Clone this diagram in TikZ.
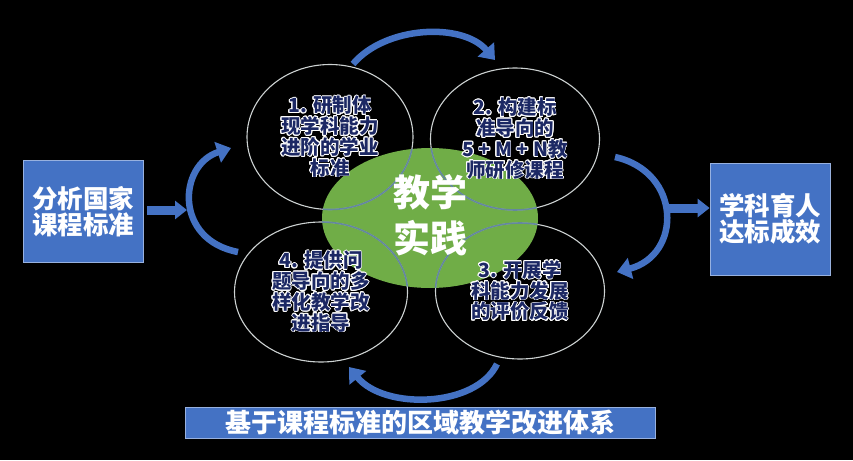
\documentclass[tikz,border=0pt]{standalone}
\usepackage{fontspec}
\setmainfont{Noto Sans CJK SC}
\usepackage{contour}
\usetikzlibrary{arrows.meta,shapes.geometric}
\definecolor{boxblue}{RGB}{68,114,196}
\definecolor{practicegreen}{RGB}{112,173,71}
\definecolor{ringgray}{RGB}{205,210,210}
\definecolor{ringblue}{RGB}{100,135,160}
\definecolor{textnavy}{RGB}{28,40,100}
\contourlength{0.8pt}
\newcommand\ringline[1]{\contour{white}{#1}}

\begin{document}
\begin{tikzpicture}[x=1pt,y=-1pt,
	  ring/.style={ellipse,draw=ringgray,line width=1.1pt,inner sep=0pt},
	  ringtext/.style={align=center,text=textnavy,font=\fontsize{19.5}{20.8}\selectfont\bfseries},
	  goalbox/.style={rectangle,fill=boxblue,draw=boxblue!55!white,line width=0.8pt,text=white,align=center,
	    font=\fontsize{25.5}{26}\selectfont\bfseries,minimum width=120pt,minimum height=102pt},
	  cyclearrow/.style={draw=boxblue,line width=6.5pt,-{Triangle[width=21pt,length=14pt]}},
	  feedarrow/.style={draw=boxblue,line width=9pt,-{Triangle[width=18pt,length=12pt]}},
	  ]
	  \fill[black] (0,0) rectangle (853,460);
	  \useasboundingbox (0,0) rectangle (853,460);
	  % centre and the four rings
	  \node[ellipse,fill=practicegreen,minimum width=216pt,minimum height=140pt] (practice) at (430,218) {};
	  \node[ring,minimum width=166pt,minimum height=145pt] (ring1) at (330,137) {};
	  \node[ring,minimum width=169pt,minimum height=142pt] (ring2) at (515,139) {};
	  \node[ring,minimum width=169pt,minimum height=136pt] (ring3) at (520,291) {};
	  \node[ring,minimum width=173pt,minimum height=140pt] (ring4) at (321,292) {};
	  \begin{scope}
	    \clip (practice.center) ellipse [x radius=108, y radius=70];
	    \draw[ringblue,line width=1.6pt] (ring1.center) ellipse [x radius=83, y radius=72.5]
	      (ring2.center) ellipse [x radius=84.5, y radius=71]
	      (ring3.center) ellipse [x radius=84.5, y radius=68]
	      (ring4.center) ellipse [x radius=86.5, y radius=70];
	  \end{scope}
	  \node[ringtext] (step1) at (ring1.center) {\ringline{1. 研制体}\\\ringline{现学科能力}\\\ringline{进阶的学业}\\\ringline{标准}};
	  \node[ringtext] (step2) at (ring2.center) {\ringline{2. 构建标}\\\ringline{准导向的}\\\ringline{5 + M + N教}\\\ringline{师研修课程}};
	  \node[ringtext] (step3) at (ring3.center) {\ringline{3. 开展学}\\\ringline{科能力发展}\\\ringline{的评价反馈}};
	  \node[ringtext] (step4) at (ring4.center) {\ringline{4. 提供问}\\\ringline{题导向的多}\\\ringline{样化教学改}\\\ringline{进指导}};
	  \node[text=white,align=center,font=\fontsize{37}{46}\selectfont\bfseries] (core) at ([yshift=3pt]practice.center) {教学\\实践};
	  % cycle arrows
	  \draw[cyclearrow] (353,64) .. controls (385,26) and (462,22) .. (495,60);
	  \draw[cyclearrow] (615,157) .. controls (682,172) and (682,255) .. (617,272);
	  \draw[cyclearrow] (497,364) .. controls (476,408) and (384,410) .. (349,367);
	  \draw[cyclearrow] (238,252) .. controls (174,240) and (178,165) .. (231,148);
	  % input and output
	  \node[goalbox] (standard) at (83,211.5) {分析国家\\课程标准};
	  \node[goalbox,minimum height=112pt] (outcome) at (770,219) {学科育人\\达标成效};
	  \coordinate (inflow) at (187,210);
	  \coordinate (outflow) at (668,208);
	  \draw[feedarrow] ([xshift=4pt]standard.east |- inflow) -- (inflow);
	  \draw[feedarrow] (outflow) -- (outcome.west |- outflow);
	  \node[fill=boxblue,draw=boxblue!55!white,line width=0.8pt,minimum width=470pt,minimum height=31pt,inner sep=0pt,
	    text=white,font=\fontsize{26}{26}\selectfont\bfseries] (system) at (420,422.5) {基于课程标准的区域教学改进体系};
	\end{tikzpicture}
\end{document}
